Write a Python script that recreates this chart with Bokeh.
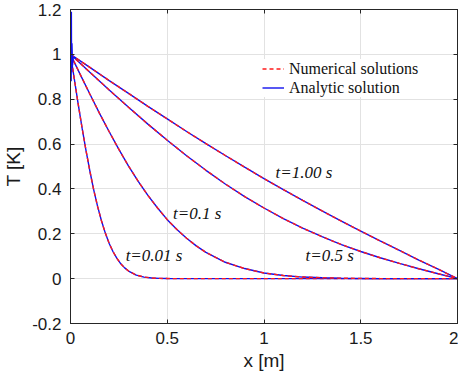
from bokeh.plotting import figure
from bokeh.models import (ColumnDataSource, Range1d, LinearAxis, FixedTicker,
                          Legend, LegendItem, NumeralTickFormatter)
from bokeh.core.properties import value
from bokeh.embed import file_html
from bokeh.resources import INLINE

# ---------------- data ----------------
x_t001 = [0, 0.01, 0.02, 0.04, 0.06, 0.08, 0.10, 0.12, 0.14, 0.16, 0.18, 0.20, 0.22,
          0.24, 0.26, 0.28, 0.30, 0.34, 0.38, 0.42, 0.46, 0.50, 0.60, 1.0, 1.5, 2.0]
T_t001 = [1.0, 0.944, 0.888, 0.777, 0.671, 0.572, 0.480, 0.396, 0.322, 0.258, 0.203, 0.157, 0.120,
          0.090, 0.066, 0.048, 0.034, 0.016, 0.007, 0.003, 0.001, 0.0004, 0.0, 0.0, 0.0, 0.0]

x_t01 = [0, 0.02, 0.05, 0.1, 0.15, 0.2, 0.25, 0.3, 0.35, 0.4, 0.45, 0.5, 0.55, 0.6, 0.65,
         0.7, 0.8, 0.9, 1.0, 1.1, 1.2, 1.3, 1.4, 1.6, 1.8, 2.0]
T_t01 = [1.0, 0.964, 0.911, 0.823, 0.737, 0.655, 0.576, 0.502, 0.434, 0.371, 0.315, 0.263, 0.219,
         0.180, 0.146, 0.117, 0.073, 0.045, 0.025, 0.014, 0.007, 0.004, 0.002, 0.0003, 0.0, 0.0]

x_t05 = [0, 0.1, 0.2, 0.3, 0.4, 0.5, 0.6, 0.7, 0.8, 0.9, 1.0, 1.1, 1.2, 1.3, 1.4, 1.5,
         1.6, 1.7, 1.8, 1.9, 2.0]
T_t05 = [1.0, 0.920, 0.841, 0.764, 0.689, 0.617, 0.548, 0.483, 0.422, 0.366, 0.315, 0.268,
         0.225, 0.187, 0.152, 0.121, 0.093, 0.068, 0.044, 0.022, 0.0]

x_t1 = [0, 0.1, 0.2, 0.3, 0.4, 0.5, 0.6, 0.7, 0.8, 0.9, 1.0, 1.1, 1.2, 1.3, 1.4, 1.5,
        1.6, 1.7, 1.8, 1.9, 2.0]
T_t1 = [1.0, 0.942, 0.883, 0.826, 0.768, 0.712, 0.656, 0.602, 0.549, 0.497, 0.446, 0.397,
        0.349, 0.302, 0.256, 0.212, 0.168, 0.126, 0.083, 0.042, 0.0]

# short oscillation of the analytic series right at x = 0
x_spike = [0.004, 0.005, 0.006, 0.008, 0.011, 0.015]
T_spike = [0.88, 1.19, 0.92, 1.05, 0.95, 0.99]

label_texts = ["t=1.00 s", "t=0.1 s", "t=0.01 s", "t=0.5 s"]
label_x = [1.06, 0.53, 0.285, 1.215]
label_y = [0.472, 0.291, 0.101, 0.101]

x_ticks = [0, 0.5, 1, 1.5, 2]
x_tick_labels = ["0", "0.5", "1", "1.5", "2"]
y_ticks = [-0.2, 0, 0.2, 0.4, 0.6, 0.8, 1, 1.2]
y_tick_labels = ["-0.2", "0", "0.2", "0.4", "0.6", "0.8", "1", "1.2"]

series_x = [x_t001, x_t01, x_t05, x_t1]
series_T = [T_t001, T_t01, T_t05, T_t1]

# ---------------- figure ----------------
AX = "#262626"
p = figure(width=458, height=375, x_range=Range1d(0, 2), y_range=Range1d(-0.2, 1.2),
           output_backend="svg", toolbar_location=None,
           min_border_left=62, min_border_right=1, min_border_top=9, min_border_bottom=52)
p.background_fill_color = "white"
p.border_fill_color = "white"
p.outline_line_color = AX
p.outline_line_width = 1

p.xgrid.ticker = FixedTicker(ticks=x_ticks)
p.ygrid.ticker = FixedTicker(ticks=y_ticks)
p.grid.grid_line_color = "#e2e2e2"
p.grid.grid_line_width = 1

for ax, ticks, labels in ((p.xaxis[0], x_ticks, x_tick_labels), (p.yaxis[0], y_ticks, y_tick_labels)):
    ax.ticker = FixedTicker(ticks=ticks)
    ax.formatter = NumeralTickFormatter(format="0.[0]")
    ax.major_label_overrides = dict(zip(ticks, labels))
    ax.major_tick_in = 4
    ax.major_tick_out = 0
    ax.minor_tick_line_color = None
    ax.axis_line_color = AX
    ax.major_tick_line_color = AX
    ax.major_label_text_font = "Liberation Sans"
    ax.major_label_text_font_size = "17px"
    ax.major_label_text_color = "#1a1a1a"
    ax.axis_label_text_font = "Liberation Sans"
    ax.axis_label_text_font_size = "19px"
    ax.axis_label_text_font_style = "normal"
    ax.axis_label_text_color = "#1a1a1a"

p.xaxis[0].axis_label = "x [m]"
p.xaxis[0].major_label_standoff = 8
p.xaxis[0].axis_label_standoff = 3
p.yaxis[0].axis_label = "T [K]"
p.yaxis[0].major_label_standoff = 9
p.yaxis[0].axis_label_standoff = 5

for loc, ticks in (("right", y_ticks), ("above", x_ticks)):
    a = LinearAxis(ticker=FixedTicker(ticks=ticks), major_tick_in=4, major_tick_out=0,
                   minor_tick_line_color=None, axis_line_color=AX, major_tick_line_color=AX,
                   major_label_text_color=None, major_label_text_font_size="1px",
                   major_label_standoff=0)
    p.add_layout(a, loc)

# ---------------- curves ----------------
blue_r = None
red_r = None
for xs, Ts in zip(series_x, series_T):
    src = ColumnDataSource(dict(x=xs, T=Ts))
    b = p.line("x", "T", source=src, line_color="#1010ee", line_width=1.4)
    r = p.line("x", "T", source=src, line_color="#ff1a1a", line_width=1.4, line_dash="4 3")
    blue_r = blue_r or b
    red_r = red_r or r

p.line(x_spike, T_spike, line_color="#1010ee", line_width=1.2)

lab_src = ColumnDataSource(dict(x=label_x, y=label_y, text=label_texts))
p.text("x", "y", text="text", source=lab_src, text_font=value("Liberation Serif"),
       text_font_style="italic", text_font_size="17px", text_align="left",
       text_baseline="middle", text_color="#111111")

legend = Legend(items=[LegendItem(label="Numerical solutions", renderers=[red_r]),
                       LegendItem(label="Analytic solution", renderers=[blue_r])],
                location=(192, 226))
legend.label_text_font = "Liberation Serif"
legend.label_text_font_size = "16px"
legend.label_text_color = "#111111"
legend.glyph_width = 22
legend.glyph_height = 19
legend.label_height = 19
legend.label_standoff = 5
legend.spacing = 0
legend.padding = 6
legend.margin = 0
legend.border_line_color = None
legend.background_fill_color = "white"
legend.background_fill_alpha = 1.0
p.add_layout(legend, "center")

open("out.html", "w").write(file_html(p, INLINE))
